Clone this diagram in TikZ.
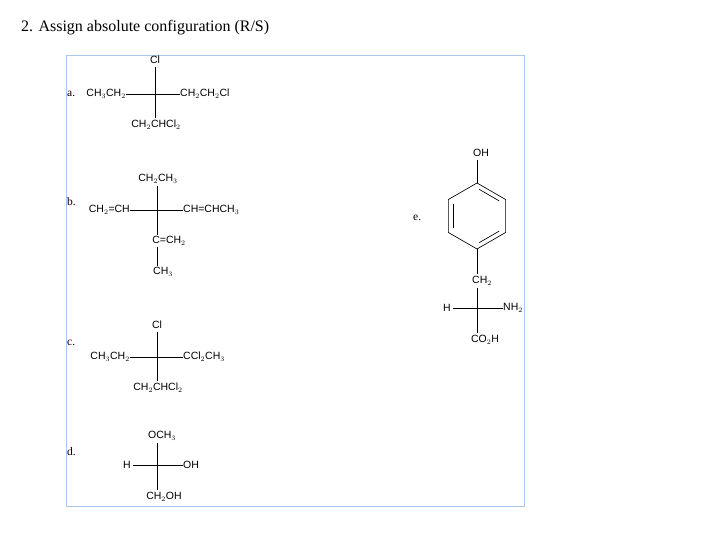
\documentclass[tikz,border=0pt]{standalone}
\usepackage{fontspec}
\setmainfont{Liberation Serif}
\setsansfont{Liberation Sans}
\usetikzlibrary{calc}
\begin{document}
\begin{tikzpicture}[x=1pt,y=-1pt,
  lab/.style={font=\sffamily\fontsize{10.5}{12}\selectfont,inner sep=0pt},
  itm/.style={font=\fontsize{11.5}{13}\selectfont,inner sep=0pt,anchor=west},
  bond/.style={line width=0.65pt}]
\useasboundingbox (0,0) rectangle (724,534);
\node[anchor=west,inner sep=0pt,font=\fontsize{16}{18}\selectfont] (title) at (21,28) {2. Assign absolute configuration (R/S)};
\draw[draw={rgb,255:red,170;green,200;blue,235},line width=0.8pt] (66,55) rectangle (524,506);
% a
\node[itm] (la) at (67,94) {a.};
\node[lab] (aT) at (155,60) {Cl};
\node[lab,anchor=east] (aL) at (126,94) {CH$_3$CH$_2$};
\node[lab,anchor=west] (aR) at (180,94) {CH$_2$CH$_2$Cl};
\node[lab] (aB) at (156,125) {CH$_2$CHCl$_2$};
\draw[bond] (aL.east) -- (aR.west);
\draw[bond] (155,67) -- (155,118);
% b
\node[itm] (lb) at (67,202) {b.};
\node[lab] (bT) at (158,179) {CH$_2$CH$_3$};
\node[lab,anchor=east] (bL) at (130,210) {CH$_2$=CH};
\node[lab,anchor=west] (bR) at (183,210) {CH=CHCH$_3$};
\node[lab] (bM) at (169,241) {C=CH$_2$};
\node[lab] (bB) at (163,272) {CH$_3$};
\draw[bond] (bL.east) -- (bR.west);
\draw[bond] (157,186) -- (157,235);
\draw[bond] (157,247) -- (157,266);
% c
\node[itm] (lc) at (67,343) {c.};
\node[lab] (cT) at (157,325) {Cl};
\node[lab,anchor=east] (cL) at (130,357) {CH$_3$CH$_2$};
\node[lab,anchor=west] (cR) at (183,357) {CCl$_2$CH$_3$};
\node[lab] (cB) at (158,388) {CH$_2$CHCl$_2$};
\draw[bond] (cL.east) -- (cR.west);
\draw[bond] (157,332) -- (157,381);
% d
\node[itm] (ld) at (67,452) {d.};
\node[lab] (dT) at (162,436) {OCH$_3$};
\node[lab,anchor=east] (dL) at (131,465) {H};
\node[lab,anchor=west] (dR) at (183,465) {OH};
\node[lab] (dB) at (164,497) {CH$_2$OH};
\draw[bond] (dL.east) ++(2,0) -- (dR.west);
\draw[bond] (157,443) -- (157,490);
% e
\node[itm] (le) at (413,218) {e.};
\node[lab] (eOH) at (481,153) {OH};
\coordinate (r1) at (477,183);
\coordinate (r2) at (505.6,199.5);
\coordinate (r3) at (505.6,232.5);
\coordinate (r4) at (477,249);
\coordinate (r5) at (448.4,232.5);
\coordinate (r6) at (448.4,199.5);
\draw[bond] (r1)--(r2)--(r3)--(r4)--(r5)--(r6)--cycle;
\draw[bond] ($(r1)!0.15!(r2)+(-2.2,3.8)$) -- ($(r1)!0.85!(r2)+(-2.2,3.8)$);
\draw[bond] (453.5,204) -- (453.5,228);
\draw[bond] ($(r3)!0.15!(r4)+(-2.2,-3.8)$) -- ($(r3)!0.85!(r4)+(-2.2,-3.8)$);
\draw[bond] (477,160) -- (r1);
\node[lab] (eCH) at (482,281) {CH$_2$};
\draw[bond] (r4) -- (477,274);
\node[lab,anchor=east] (eH) at (451,308) {H};
\node[lab,anchor=west] (eN) at (503,308) {NH$_2$};
\node[lab] (eB) at (485,340) {CO$_2$H};
\draw[bond] (eH.east) ++(2,0) -- (eN.west);
\draw[bond] (477,288) -- (477,333);
\end{tikzpicture}
\end{document}
